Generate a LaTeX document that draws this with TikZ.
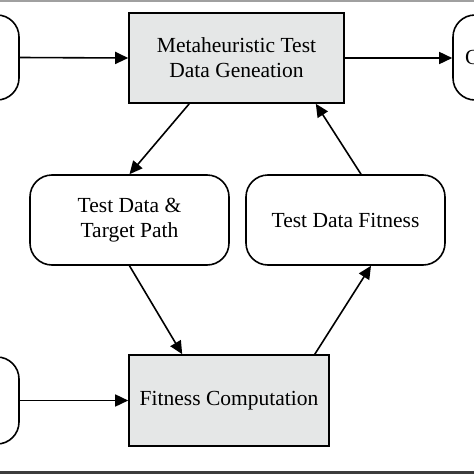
\documentclass[tikz,border=0pt]{standalone}
\usepackage{fontspec}
\setmainfont{Liberation Serif}
\usetikzlibrary{positioning, arrows.meta, calc}
\definecolor{boxgray}{RGB}{229,231,231}
\definecolor{edgegray}{RGB}{160,160,160}
\definecolor{bardark}{RGB}{60,60,60}

\begin{document}
\begin{tikzpicture}[
    x=1pt, y=-1pt,
    font=\fontsize{21.5}{25}\selectfont,
    proc/.style={rectangle, draw=black, fill=boxgray, line width=1.6pt, align=center, inner sep=0pt},
    data/.style={rectangle, rounded corners=22pt, draw=black, fill=white, line width=1.6pt, align=center, inner sep=0pt, minimum width=199pt, minimum height=90pt},
    arrow/.style={-{Triangle[length=13pt, width=12pt]}, line width=1.6pt}
]
\useasboundingbox (0,0) rectangle (474,474);

% Frame strips
\fill[edgegray] (0,0) rectangle (474,2);
\fill[bardark] (0,471) rectangle (474,474);

% Processes
\node[proc, minimum width=215pt, minimum height=90pt] (gen) at (236.5,58) {Metaheuristic Test\\Data Geneation};
\node[proc, minimum width=200pt, minimum height=91pt] (fit) at (229,400.5) {Fitness Computation};

% Data
\node[data] (path) at (129.5,220) {Test Data \&\\Target Path};
\node[data] (score) at (345.5,220) {Test Data Fitness};

% Outer nodes (cut by the page edge)
\node[data, minimum height=85pt] (inA) at (-80.5,57.5) {};
\node[data, minimum height=87pt] (inB) at (-80.5,400.5) {};
\node[data, minimum height=85pt, text width=175pt, align=left] (out) at (552.5,57.5) {C};

% Edges
\draw[arrow] (inA.east) -- (gen.west);
\draw[arrow] (gen.east) -- (gen.east -| out.west);
\draw[arrow] (inB.east) -- (fit.west);
\draw[arrow] ([xshift=61pt]gen.south west) -- (path.north);
\draw[arrow] (path.south) -- ([xshift=54pt]fit.north west);
\draw[arrow] ([xshift=-15pt]fit.north east) -- ([xshift=25.5pt]score.south);
\draw[arrow] ([xshift=15.5pt]score.north) -- ([xshift=-29pt]gen.south east);

\end{tikzpicture}
\end{document}
